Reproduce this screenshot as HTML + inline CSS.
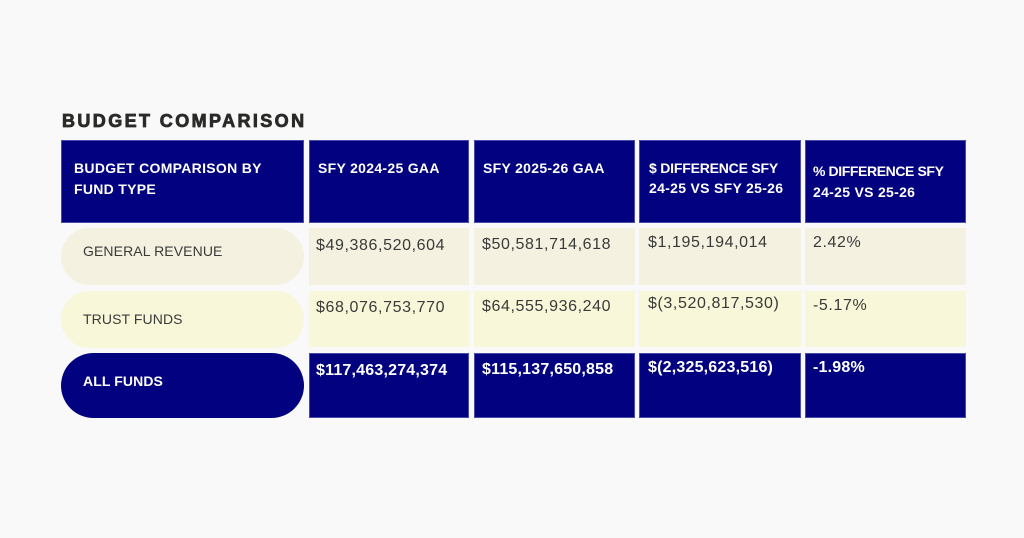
<!DOCTYPE html>
<html>
<head>
<meta charset="utf-8">
<style>
  html,body{margin:0;padding:0;}
  body{width:1024px;height:538px;background:#f9f9f9;position:relative;overflow:hidden;font-family:"Liberation Sans",sans-serif;}
  .b{position:absolute;}
  .navy{background:#02017f;box-shadow:inset 0 0 0 1px #4a4aa8;}
  .r1{background:#f4f1e1;}
  .r2{background:#f8f7d9;}
  .t{position:absolute;white-space:nowrap;line-height:1;}
  .h{font-size:14px;font-weight:bold;color:#fff;letter-spacing:0.3px;}
  .v{font-size:16px;color:#3a3a38;letter-spacing:0.6px;}
  .vb{font-size:16px;font-weight:bold;color:#fff;letter-spacing:0.2px;}
  .l{font-size:14px;color:#3a3a38;letter-spacing:0.1px;}
</style>
</head>
<body>
<div class="t" style="left:62px;top:112px;font-size:18px;font-weight:bold;letter-spacing:2.4px;color:#2a2a28;-webkit-text-stroke:0.8px #2a2a28;">BUDGET COMPARISON</div>

<!-- header row -->
<div class="b navy" style="left:61px;top:140px;width:243px;height:83px;"></div>
<div class="b navy" style="left:309px;top:140px;width:160px;height:83px;"></div>
<div class="b navy" style="left:474px;top:140px;width:161px;height:83px;"></div>
<div class="b navy" style="left:639px;top:140px;width:162px;height:83px;"></div>
<div class="b navy" style="left:805px;top:140px;width:161px;height:83px;"></div>

<div class="t h" style="left:74px;top:161px;">BUDGET COMPARISON BY</div>
<div class="t h" style="left:74px;top:182px;">FUND TYPE</div>
<div class="t h" style="left:318px;top:161px;">SFY 2024-25 GAA</div>
<div class="t h" style="left:483px;top:161px;">SFY 2025-26 GAA</div>
<div class="t h" style="left:649px;top:161px;letter-spacing:-0.2px;">$ DIFFERENCE SFY</div>
<div class="t h" style="left:649px;top:181px;">24-25 VS SFY 25-26</div>
<div class="t h" style="left:813px;top:164px;letter-spacing:-0.4px;">% DIFFERENCE SFY</div>
<div class="t h" style="left:813px;top:185px;">24-25 VS 25-26</div>

<!-- row 1 -->
<div class="b r1" style="left:61px;top:228px;width:243px;height:57px;border-radius:28.5px;"></div>
<div class="b r1" style="left:309px;top:228px;width:160px;height:57px;"></div>
<div class="b r1" style="left:474px;top:228px;width:161px;height:57px;"></div>
<div class="b r1" style="left:639px;top:228px;width:162px;height:57px;"></div>
<div class="b r1" style="left:805px;top:228px;width:161px;height:57px;"></div>

<div class="t l" style="left:83px;top:244px;">GENERAL REVENUE</div>
<div class="t v" style="left:316px;top:238px;">$49,386,520,604</div>
<div class="t v" style="left:482px;top:237px;">$50,581,714,618</div>
<div class="t v" style="left:648px;top:235px;">$1,195,194,014</div>
<div class="t v" style="left:813px;top:235px;">2.42%</div>

<!-- row 2 -->
<div class="b r2" style="left:61px;top:291px;width:243px;height:57px;border-radius:28.5px;"></div>
<div class="b r2" style="left:309px;top:291px;width:160px;height:56px;"></div>
<div class="b r2" style="left:474px;top:291px;width:161px;height:56px;"></div>
<div class="b r2" style="left:639px;top:291px;width:162px;height:56px;"></div>
<div class="b r2" style="left:805px;top:291px;width:161px;height:56px;"></div>

<div class="t l" style="left:83px;top:312px;">TRUST FUNDS</div>
<div class="t v" style="left:316px;top:300px;">$68,076,753,770</div>
<div class="t v" style="left:482px;top:299px;">$64,555,936,240</div>
<div class="t v" style="left:648px;top:296px;">$(3,520,817,530)</div>
<div class="t v" style="left:813px;top:298px;">-5.17%</div>

<!-- row 3 -->
<div class="b navy" style="left:61px;top:353px;width:243px;height:65px;border-radius:32.5px;box-shadow:none;"></div>
<div class="b navy" style="left:309px;top:353px;width:160px;height:65px;"></div>
<div class="b navy" style="left:474px;top:353px;width:161px;height:65px;"></div>
<div class="b navy" style="left:639px;top:353px;width:162px;height:65px;"></div>
<div class="b navy" style="left:805px;top:353px;width:161px;height:65px;"></div>

<div class="t l" style="left:83px;top:374px;color:#fff;font-weight:bold;">ALL FUNDS</div>
<div class="t vb" style="left:316px;top:363px;">$117,463,274,374</div>
<div class="t vb" style="left:482px;top:362px;">$115,137,650,858</div>
<div class="t vb" style="left:648px;top:360px;">$(2,325,623,516)</div>
<div class="t vb" style="left:813px;top:360px;">-1.98%</div>
</body>
</html>
